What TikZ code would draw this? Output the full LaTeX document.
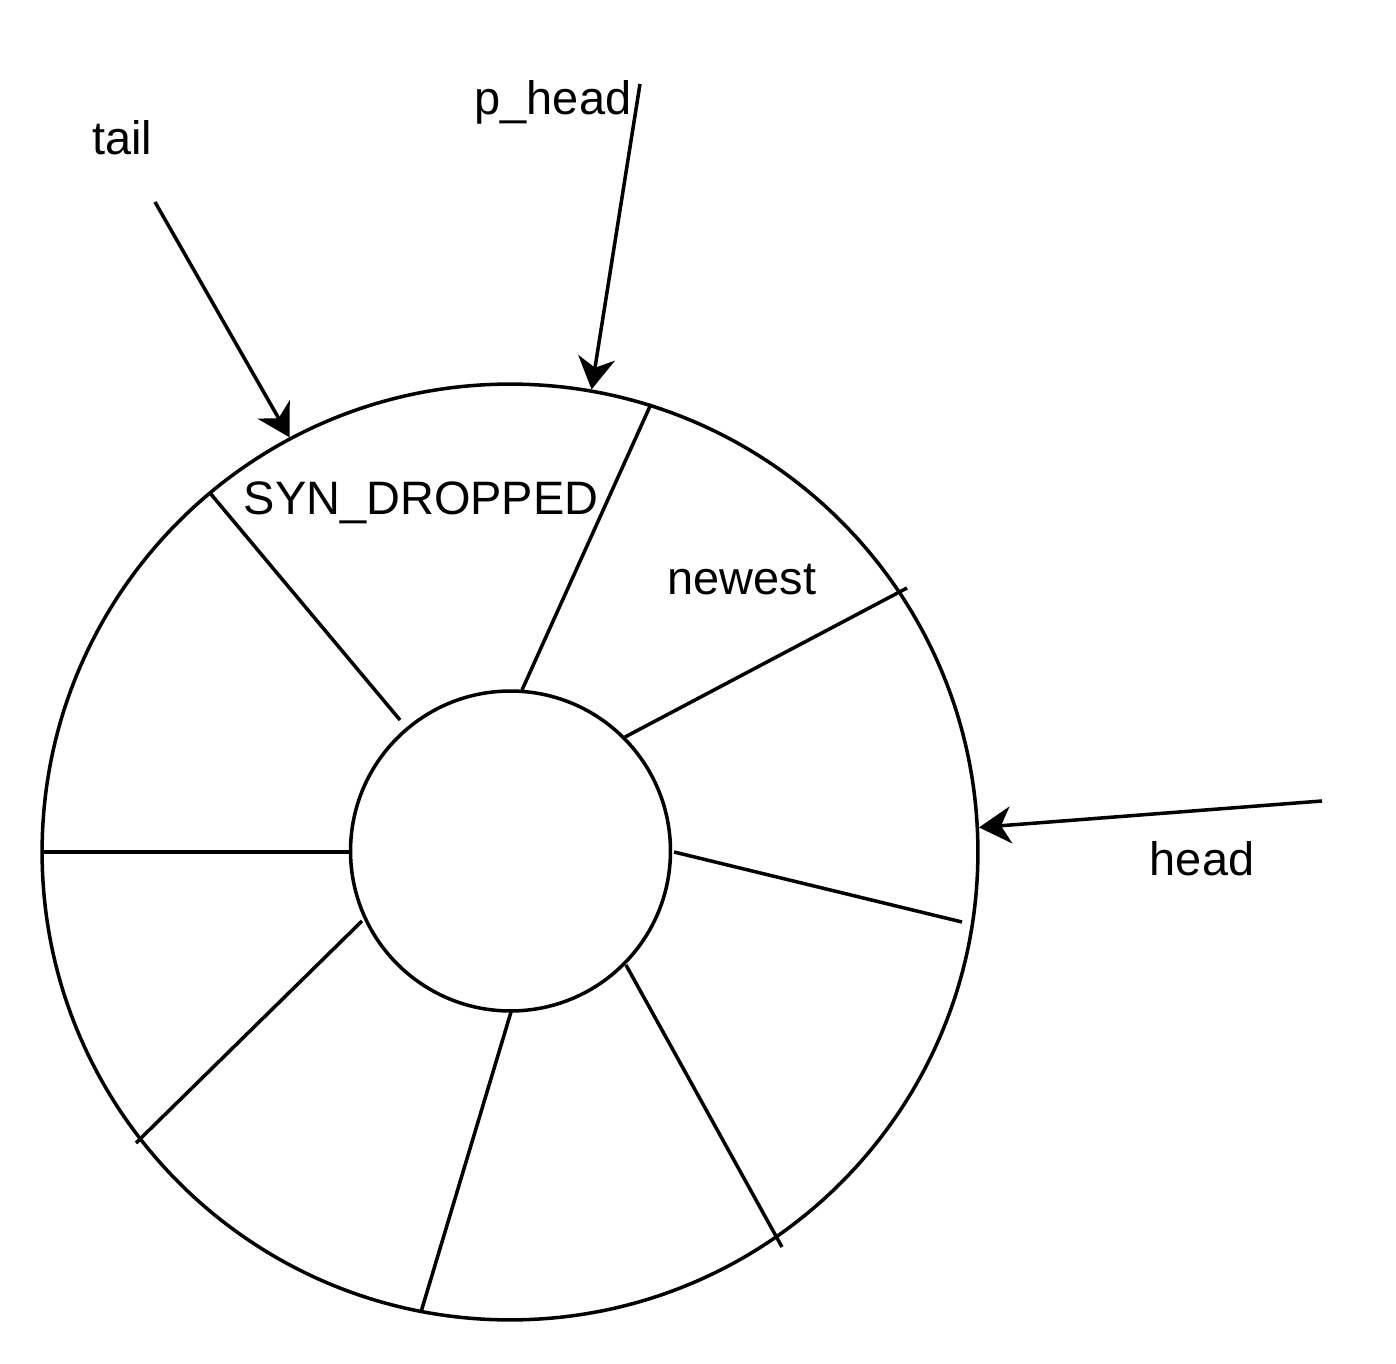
\documentclass[tikz,border=0pt]{standalone}
\usepackage{fontspec}
\setmainfont{Liberation Sans}
\usetikzlibrary{arrows.meta}

\begin{document}
\begin{tikzpicture}[x=0.02cm,y=-0.02cm,line width=2pt,
    every node/.style={font=\fontsize{26.7}{32}\selectfont,inner sep=0pt},
    pointer/.style={-{Stealth[length=0.64cm,width=0.74cm,inset=0.2cm]}}]
    \useasboundingbox (0,0) rectangle (1396,1364);
    % ring buffer
    \node[circle,draw,minimum size=18.72cm] (ring) at (510,852) {};
    \node[circle,draw,minimum size=6.4cm] (hub) at (510.5,851) {};
    % slots
    \foreach \xa/\ya/\xb/\yb in {400/720/210/493, 522/690/651/404,
        625/737/907/588, 674/852/962/922, 626/965/782/1247,
        511/1012/421/1312, 362/921/136/1143, 351/852/42/852}
      \draw (\xa,\ya) -- (\xb,\yb);
    % labels
    \node[anchor=base] (tail) at (122,155) {tail};
    \node[anchor=base] (phead) at (553,115) {p\_head};
    \node[anchor=base] (head) at (1202,875) {head};
    \node[anchor=base] (dropped) at (421,515) {SYN\_DROPPED};
    \node[anchor=base] (newest) at (742,595) {newest};
    % pointers
    \coordinate (tailfrom) at (155,202);
    \coordinate (pheadfrom) at (640,84);
    \coordinate (headfrom) at (1322,801);
    \draw[pointer] (tailfrom) -- (ring.118.5);
    \draw[pointer] (pheadfrom) -- (ring.80.3);
    \draw[pointer] (headfrom) -- (ring.3.4);
\end{tikzpicture}
\end{document}
